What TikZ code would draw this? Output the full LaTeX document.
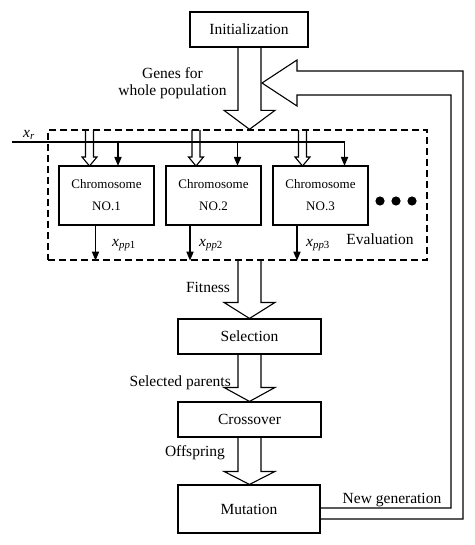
\documentclass[tikz,border=0pt]{standalone}
\usepackage{fontspec}
\setmainfont{Liberation Serif}
\usetikzlibrary{calc,arrows.meta}
\newcommand\hollowarrow[5]{% from, to, shaft half width, head half width, head length
  \draw[bigline] let \p1=(#1), \p2=(#2) in
    (\x1-#3pt,\y1) -- (\x1-#3pt,\y2+#5pt) -- (\x1-#4pt,\y2+#5pt) -- (\x1,\y2)
    -- (\x1+#4pt,\y2+#5pt) -- (\x1+#3pt,\y2+#5pt) -- (\x1+#3pt,\y1);}
\begin{document}
\begin{tikzpicture}[x=1pt,y=-1pt,
  font=\fontsize{15.5}{17}\selectfont,
  box/.style={draw,line width=1.1pt,minimum width=143pt,minimum height=35pt,inner sep=0pt},
  chrom/.style={draw,line width=1.1pt,minimum width=95pt,minimum height=59pt,inner sep=0pt,
     align=center,font=\fontsize{13}{22}\selectfont},
  bigline/.style={line width=1.1pt,line join=miter},
  blkarrow/.style={line width=1.6pt,-{Triangle[length=9pt,width=7pt]}},
  evalbox/.style={draw,dashed,line width=1.3pt,dash pattern=on 7pt off 4pt,
     minimum width=379pt,minimum height=130pt,inner sep=0pt},
  fb/.style={line width=1.1pt,line join=miter},
  lbl/.style={inner sep=0pt}]
\useasboundingbox (0,0) rectangle (474,545);

% main boxes
\node[box,minimum width=118pt] (init) at (249,29.5) {Initialization};
\node[evalbox] (eval) at (237.5,195) {};
\node[chrom] (c1) at (106.5,195.5) {Chromosome\\NO.1};
\node[chrom] (c2) at (213.5,195.5) {Chromosome\\NO.2};
\node[chrom] (c3) at (320.5,195.5) {Chromosome\\NO.3};
\node[box] (sel) at (249.5,336.5) {Selection};
\node[box] (cross) at (249.5,419.5) {Crossover};
\node[box,minimum width=142pt,minimum height=48pt] (mut) at (249,509) {Mutation};

% big hollow arrows
\coordinate (a0) at (249.5,47);
\hollowarrow{a0}{eval.north}{11.5}{25.5}{19}
\coordinate (a1) at (249.5,260);
\hollowarrow{a1}{sel.north}{11.5}{25.5}{16}
\coordinate (a2) at (249.5,354);
\hollowarrow{a2}{cross.north}{11.5}{25.5}{14}
\coordinate (a3) at (249.5,437);
\hollowarrow{a3}{mut.north}{11.5}{25.5}{13}

% x_r line
\coordinate (xr0) at (12,142);
\coordinate (xr1) at (345,142);
\draw[line width=1.1pt] (xr0) -- (xr1);
\node[lbl] (xrl) at (29,135) {\textit{x}\textsubscript{\textit{r}}};

% small hollow arrows into chromosomes
\coordinate (h1) at (89.5,130);
\coordinate (h2) at (196,130);
\coordinate (h3) at (302.5,130);
\coordinate (h1e) at (89.5,166);
\coordinate (h2e) at (196,166);
\coordinate (h3e) at (302.5,166);
\hollowarrow{h1}{h1e}{4}{7.5}{9}
\hollowarrow{h2}{h2e}{4}{7.5}{9}
\hollowarrow{h3}{h3e}{4}{7.5}{9}

% black arrows from x_r
\coordinate (b1) at (118,166);
\coordinate (b2) at (237.5,166);
\coordinate (b3) at (344.5,166);
\draw[blkarrow] (b1 |- xr0) -- (b1);
\draw[blkarrow] (b2 |- xr0) -- (b2);
\draw[blkarrow] (b3 |- xr0) -- (b3);

% output arrows
\coordinate (o1) at (95.5,225);
\coordinate (o2) at (190,225);
\coordinate (o3) at (297,225);
\draw[blkarrow] (o1) -- (o1 |- eval.south);
\draw[blkarrow] (o2) -- (o2 |- eval.south);
\draw[blkarrow] (o3) -- (o3 |- eval.south);
\node[lbl,anchor=west] (p1) at (112,245) {\textit{x}\textsubscript{\textit{pp}1}};
\node[lbl,anchor=west] (p2) at (199,245) {\textit{x}\textsubscript{\textit{pp}2}};
\node[lbl,anchor=west] (p3) at (306,245) {\textit{x}\textsubscript{\textit{pp}3}};

% dots
\fill (380,201) circle (4.6);
\fill (396,201) circle (4.6);
\fill (412,201) circle (4.6);

\node[lbl] (evl) at (380,239) {Evaluation};

% feedback arrow
\coordinate (tip) at (262,83);
\draw[fb] ($(mut.east)+(0,10)$) -- (463,519) -- (463,71) -- (297,71) -- (297,60) -- (tip)
   -- (297,106) -- (297,95) -- (451,95) -- (451,508) -- ($(mut.east)+(0,-1)$);

% labels
\node[lbl,align=center] (genes) at (172.5,83.5) {Genes for\\whole population};
\node[lbl] (fit) at (208,287) {Fitness};
\node[lbl,anchor=east] (selp) at (231,383) {Selected parents};
\node[lbl] (off) at (195,453) {Offspring};
\node[lbl] (newg) at (392,500) {New generation};
\end{tikzpicture}
\end{document}
